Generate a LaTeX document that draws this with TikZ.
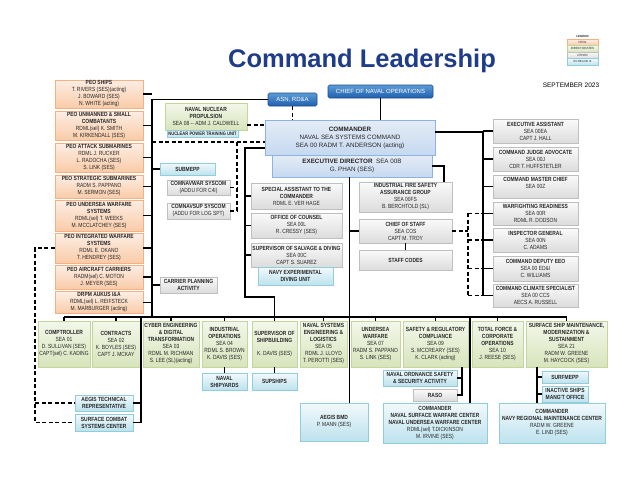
\documentclass[tikz,border=0pt]{standalone}
\usepackage{fontspec}
\setmainfont{Liberation Sans}
\newfontfamily\narrowfont[FakeStretch=0.82]{Liberation Sans}
\usetikzlibrary{calc}

\definecolor{titleblue}{HTML}{1F3C88}
\definecolor{peoedge}{HTML}{F4B183}
\definecolor{peotop}{HTML}{FDEEE4}
\definecolor{peobot}{HTML}{F9CBA8}
\definecolor{diredge}{HTML}{C4D79B}
\definecolor{dirtop}{HTML}{F3F7EA}
\definecolor{dirbot}{HTML}{D8E4BC}
\definecolor{othedge}{HTML}{BFBFBF}
\definecolor{othtop}{HTML}{FAFAFA}
\definecolor{othbot}{HTML}{DCDCDC}
\definecolor{echedge}{HTML}{92CDDC}
\definecolor{echtop}{HTML}{F2F9FC}
\definecolor{echbot}{HTML}{BDE2EE}
\definecolor{cmdedge}{HTML}{8DB3E2}
\definecolor{cmdtop}{HTML}{E4ECF6}
\definecolor{cmdbot}{HTML}{C6D9F0}
\definecolor{navyedge}{HTML}{1F4E8C}
\definecolor{navytop}{HTML}{5B9BD5}
\definecolor{navybot}{HTML}{1F5FAF}

\tikzset{every node/.style={font=\narrowfont\fontsize{6}{7}\selectfont, align=center, inner sep=0pt, text=black!85}}
\tikzset{unit/.style={draw, line width=0.6pt}}
\tikzset{sz/.style 2 args={minimum width=#1, minimum height=#2}}
\tikzset{peo/.style={unit, draw=peoedge, top color=peotop, bottom color=peobot}}
\tikzset{dir/.style={unit, draw=diredge, top color=dirtop, bottom color=dirbot}}
\tikzset{other/.style={unit, draw=othedge, top color=othtop, bottom color=othbot}}
\tikzset{ech/.style={unit, draw=echedge, top color=echtop, bottom color=echbot}}
\tikzset{cmd/.style={unit, draw=cmdedge, top color=cmdtop, bottom color=cmdbot,
                     font=\normalfont\fontsize{6.3}{8}\selectfont}}
\tikzset{navy/.style={unit, draw=navyedge, top color=navytop, bottom color=navybot, rounded corners=1.5pt,
                      text=white, font=\normalfont\fontsize{6}{7}\selectfont}}
\tikzset{legbox/.style={font=\normalfont\fontsize{3}{3.5}\selectfont, sz={31}{6.5}}}
\tikzset{link/.style={line width=1.2pt}}
\tikzset{dlink/.style={line width=1.2pt, dash pattern=on 4pt off 2.5pt}}

\begin{document}
\begin{tikzpicture}[x=1pt, y=-1pt]
		\useasboundingbox (0,0) rectangle (638,493);

		% Heading
		\node[font=\normalfont\bfseries\fontsize{25.5}{30}\selectfont, text=titleblue] (title) at (362,61) {Command Leadership};
		\node[font=\normalfont\fontsize{6.5}{7}\selectfont, text=black] (date) at (571,85) {SEPTEMBER 2023};

		% Legend
		\node[font=\normalfont\bfseries\fontsize{3}{3.5}\selectfont] (leg) at (582.5,36.5) {LEGEND};
		\node[peo, legbox] (legpeo) at (582.5,42.3) {PEOs};
		\node[dir, legbox] (legdir) at (582.5,48.8) {DIRECTORATES};
		\node[other, legbox] (legoth) at (582.5,55.3) {OTHER};
		\node[ech, legbox] (legech) at (582.5,61.8) {ECHELON III};

		% Top of the chain
		\node[navy, sz={105}{13}] (cno) at (380.5,91.5) {CHIEF OF NAVAL OPERATIONS};
		\node[navy, sz={49}{13}] (asn) at (292.5,99.5) {ASN, RD\&A};
		\node[cmd, sz={170}{35}] (cmdr) at (350,137.5) {\textbf{COMMANDER}\\NAVAL SEA SYSTEMS COMMAND\\SEA 00 RADM T. ANDERSON (acting)};
		\node[cmd, sz={160}{22}] (exdir) at (352,166) {\textbf{EXECUTIVE DIRECTOR}\ \ SEA 00B\\G. PHAN (SES)};

		% PEOs
		\node[peo, sz={88}{28}] (ships) at (99,94) {\textbf{PEO SHIPS}\\T. RIVERS (SES)(acting)\\J. BOWARD (SES)\\N. WHITE (acting)};
		\node[peo, sz={88}{29}] (unm) at (99,125.5) {\textbf{PEO UNMANNED \& SMALL}\\\textbf{COMBATANTS}\\RDML(sel) K. SMITH\\M. KIRKENDALL (SES)};
		\node[peo, sz={88}{29}] (atk) at (99,157.5) {\textbf{PEO ATTACK SUBMARINES}\\RDML J. RUCKER\\L. RADOCHA (SES)\\S. LINK (SES)};
		\node[peo, sz={88}{23}] (ssbn) at (99,186.5) {\textbf{PEO STRATEGIC SUBMARINES}\\RADM S. PAPPANO\\M. SERMON (SES)};
		\node[peo, sz={88}{31}] (usw) at (99,215.5) {\textbf{PEO UNDERSEA WARFARE}\\\textbf{SYSTEMS}\\RDML(sel) T. WEEKS\\M. MCCLATCHEY (SES)};
		\node[peo, sz={88}{30}] (iws) at (99,248) {\textbf{PEO INTEGRATED WARFARE}\\\textbf{SYSTEMS}\\RDML E. OKANO\\T. HENDREY (SES)};
		\node[peo, sz={88}{24}] (cvn) at (99,277) {\textbf{PEO AIRCRAFT CARRIERS}\\RADM(sel) C. MOTON\\J. MEYER (SES)};
		\node[peo, sz={88}{22}] (aukus) at (99,302.5) {\textbf{DRPM AUKUS I\&A}\\RDML(sel) L. REIFSTECK\\M. MARBURGER (acting)};

		% Left side units
		\node[dir, sz={82}{27}] (nnp) at (206,116.5) {\textbf{NAVAL NUCLEAR}\\\textbf{PROPULSION}\\SEA 08 -- ADM J. CALDWELL};
		\node[ech, sz={71}{7.5}, font=\narrowfont\bfseries\fontsize{5}{6}\selectfont] (nptu) at (202.5,133.75) {NUCLEAR POWER TRAINING UNIT};
		\node[ech, sz={55}{12}] (submepp) at (187.5,169) {\textbf{SUBMEPP}};
		\node[other, sz={63}{15}] (nwar) at (198.5,187.5) {\textbf{COMNAVWAR SYSCOM}\\(ADDU FOR C4I)};
		\node[other, sz={63}{16}] (nsup) at (198.5,211) {\textbf{COMNAVSUP SYSCOM}\\(ADDU FOR LOG SPT)};
		\node[other, sz={57}{16}] (cpa) at (188.5,285) {\textbf{CARRIER PLANNING}\\\textbf{ACTIVITY}};

		% Staff
		\node[other, sz={91}{26}] (spa) at (296.5,196) {\textbf{SPECIAL ASSISTANT TO THE}\\\textbf{COMMANDER}\\RDML E. VER HAGE};
		\node[other, sz={91}{25}] (ogc) at (296.5,225.5) {\textbf{OFFICE OF COUNSEL}\\SEA 00L\\R. CRESSY (SES)};
		\node[other, sz={91}{24}] (supsalv) at (296.5,255) {\textbf{SUPERVISOR OF SALVAGE \& DIVING}\\SEA 00C\\CAPT S. SUAREZ};
		\node[ech, sz={75}{18}] (nedu) at (295.5,276) {\textbf{NAVY EXPERIMENTAL}\\\textbf{DIVING UNIT}};
		\node[other, sz={93}{30}] (ifsag) at (405.5,197) {\textbf{INDUSTRIAL FIRE SAFETY}\\\textbf{ASSURANCE GROUP}\\SEA 00FS\\B. BERCHTOLD (SL)};
		\node[other, sz={93}{24}] (cos) at (405.5,231) {\textbf{CHIEF OF STAFF}\\SEA COS\\CAPT M. TROY};
		\node[other, sz={93}{20}] (codes) at (405.5,260) {\textbf{STAFF CODES}};

		% Special staff (right)
		\node[other, sz={85}{24}] (ea) at (535.5,131) {\textbf{EXECUTIVE ASSISTANT}\\SEA 00EA\\CAPT J. HALL};
		\node[other, sz={85}{24}] (cja) at (535.5,159) {\textbf{COMMAND JUDGE ADVOCATE}\\SEA 00J\\CDR T. HUFFSTETLER};
		\node[other, sz={85}{23}] (cmc) at (535.5,186.5) {\textbf{COMMAND MASTER CHIEF}\\SEA 00Z\\\mbox{}};
		\node[other, sz={85}{23}] (wr) at (535.5,213.5) {\textbf{WARFIGHTING READINESS}\\SEA 00R\\RDML R. DODSON};
		\node[other, sz={85}{24}] (ig) at (535.5,240) {\textbf{INSPECTOR GENERAL}\\SEA 00N\\C. ADAMS};
		\node[other, sz={85}{25}] (eeo) at (535.5,268.5) {\textbf{COMMAND DEPUTY EEO}\\SEA 00 ED\&I\\C. WILLIAMS};
		\node[other, sz={85}{23}] (ccs) at (535.5,295.5) {\textbf{COMMAND CLIMATE SPECIALIST}\\SEA 00 CCS\\AECS A. RUSSELL};

		% Directorates
		\node[dir, sz={52}{46}] (comp) at (64,344) {\textbf{COMPTROLLER}\\SEA 01\\D. SULLIVAN (SES)\\CAPT(sel) C. KADING};
		\node[dir, sz={48}{46}] (ctr) at (116,344) {\textbf{CONTRACTS}\\SEA 02\\K. BOYLES (SES)\\CAPT J. MCKAY};
		\node[dir, sz={56}{46}] (cyber) at (171,344) {\textbf{CYBER ENGINEERING}\\\textbf{\& DIGITAL}\\\textbf{TRANSFORMATION}\\SEA 03\\RDML M. RICHMAN\\S. LEE (SL)(acting)};
		\node[dir, sz={45}{46}] (indops) at (224.5,344) {\textbf{INDUSTRIAL}\\\textbf{OPERATIONS}\\SEA 04\\RDML S. BROWN\\K. DAVIS (SES)};
		\node[dir, sz={45}{46}] (supship) at (274.5,344) {\textbf{SUPERVISOR OF}\\\textbf{SHIPBUILDING}\\[6pt]K. DAVIS (SES)};
		\node[dir, sz={47}{46}] (nsel) at (323.5,344) {\textbf{NAVAL SYSTEMS}\\\textbf{ENGINEERING \&}\\\textbf{LOGISTICS}\\SEA 05\\RDML J. LLOYD\\T. PEROTTI (SES)};
		\node[dir, sz={49}{46}] (usea) at (375.5,344) {\textbf{UNDERSEA}\\\textbf{WARFARE}\\SEA 07\\RADM S. PAPPANO\\S. LINK (SES)};
		\node[dir, sz={65}{46}] (safety) at (435.5,344) {\textbf{SAFETY \& REGULATORY}\\\textbf{COMPLIANCE}\\SEA 09\\S. MCCREARY (SES)\\K. CLARK (acting)};
		\node[dir, sz={51}{46}] (tfco) at (497.5,344) {\textbf{TOTAL FORCE \&}\\\textbf{CORPORATE}\\\textbf{OPERATIONS}\\SEA 10\\J. REESE (SES)};
		\node[dir, sz={81}{46}] (ssm) at (566.5,344) {\textbf{SURFACE SHIP MAINTENANCE,}\\\textbf{MODERNIZATION \&}\\\textbf{SUSTAINMENT}\\SEA 21\\RADM W. GREENE\\M. HAYCOCK (SES)};

		% Echelon III
		\node[ech, sz={45}{17}] (nsy) at (224.5,381.5) {\textbf{NAVAL}\\\textbf{SHIPYARDS}};
		\node[ech, sz={45}{17}] (supships) at (274.5,381.5) {\textbf{SUPSHIPS}};
		\node[ech, sz={58}{16}] (atr) at (104,403) {\textbf{AEGIS TECHNICAL}\\\textbf{REPRESENTATIVE}};
		\node[ech, sz={58}{17}] (scsc) at (104,422.5) {\textbf{SURFACE COMBAT}\\\textbf{SYSTEMS CENTER}};
		\node[ech, sz={68}{38}] (bmd) at (334,422) {\textbf{AEGIS BMD}\\P. MANN (SES)};
		\node[ech, sz={74}{16}] (nossa) at (420,378) {\textbf{NAVAL ORDNANCE SAFETY}\\\textbf{\& SECURITY ACTIVITY}};
		\node[other, sz={44}{12}] (raso) at (435,395) {\textbf{RASO}};
		\node[ech, sz={104}{40}] (nswc) at (435,423) {\textbf{COMMANDER}\\\textbf{NAVAL SURFACE WARFARE CENTER}\\\textbf{NAVAL UNDERSEA WARFARE CENTER}\\RDML(sel) T.DICKINSON\\M. IRVINE (SES)};
		\node[ech, sz={46}{12}] (surfmepp) at (565,377) {\textbf{SURFMEPP}};
		\node[ech, sz={46}{16}] (isfo) at (565,394) {\textbf{INACTIVE SHIPS}\\\textbf{MANG'T OFFICE}};
		\node[ech, sz={106}{40}] (nrmc) at (552,423) {\textbf{COMMANDER}\\\textbf{NAVY REGIONAL MAINTENANCE CENTER}\\RADM W. GREENE\\E. LIND (SES)};

		% Coordinates
		\coordinate (peotop) at (152,99.5);
		\coordinate (peobot) at (152,317);
		\coordinate (peodash) at (152,142);
		\coordinate (addu) at (237,142);
		\coordinate (stf) at (245,148);
		\coordinate (stfbot) at (245,297);
		\coordinate (stfjoin) at (274.5,297);
		\coordinate (spine) at (349.5,177);
		\coordinate (ifs) at (444,166);
		\coordinate (rbus) at (483,132);
		\coordinate (cosd) at (468,213);
		\coordinate (bus) at (64,317);
		\coordinate (cyb) at (141,317);
		\coordinate (iwsd) at (35,248);
		\coordinate (sfy) at (462,367);
		\coordinate (wc) at (470,317);
		\coordinate (sm) at (537,367);

		% Chain of command
		\draw[link] (cno.south) -- (cno.south |- cmdr.north);
		\draw[dlink] (asn.south) -- (asn.south |- cmdr.north);
		\draw[link] (asn.west) -- (peotop) -- (peobot);
		\foreach \p in {ships,unm,atk,ssbn,usw,iws,cvn,aukus}
			\draw[link] (\p.east) -- (\p.east -| peotop);
		\foreach \p in {submepp,cpa}
			\draw[link] (\p.west) -- (\p.west -| peotop);

		%% ADDU lines
		\draw[dlink] (peodash) -- (cmdr.west |- peodash);
		\draw[dlink] (addu) -- (addu |- nsup.east);
		\draw[dlink] (nwar.east) -- (nwar.east -| addu);
		\draw[dlink] (nsup.east) -- (nsup.east -| addu);
		\draw[dlink] ([yshift=-8.5pt]nnp.east) coordinate (nnpr) -- (nnpr -| cmdr.west);

		%% Staff
		\draw[link] (cmdr.west |- stf) -- (stf) -- (stfbot) -- (stfjoin) -- (stfjoin |- bus);
		\foreach \s in {spa,ogc,supsalv}
			\draw[link] (\s.west) -- (\s.west -| stf);
		\draw[link] (spine) -- (spine |- bmd.north);
		\draw[link] (cos.west) -- (cos.west -| spine);
		\draw[link] (exdir.east |- ifs) -- (ifs) -- (ifs |- ifsag.north);
		\draw[link] (cos.south) -- (codes.north);

		%% Special staff
		\draw[link] (cmdr.east |- rbus) -- (rbus) -- (rbus |- ccs.west);
		\foreach \r in {ea,cja,cmc,wr,ig,eeo,ccs}
			\draw[link] (\r.west) -- (\r.west -| rbus);
		\draw[dlink] (cos.east) -- (cos.east -| cosd);
		\draw[dlink] (cosd) -- (cosd |- ccs.west);
		\foreach \r in {wr,ig,eeo,ccs}
			\draw[dlink] (\r.west -| cosd) -- (\r.west -| rbus);

		% Directorates
		\draw[link] (bus) -- (ssm.north |- bus);
		\foreach \d in {comp,ctr,cyber,indops,supship,nsel,usea,safety,tfco,ssm}
			\draw[link] (\d.north) -- (\d.north |- bus);

		% Echelon III
		\draw[link] (cyb) -- (cyb |- scsc.east) -- (scsc.east);
		\draw[link] (atr.east) -- (atr.east -| cyb);
		\draw[dlink] (iws.west) -- (iws.west -| iwsd) -- (iwsd |- scsc.west) -- (scsc.west);
		\draw[dlink] (atr.west -| iwsd) -- (atr.west);
		\draw[link] (indops.south) -- (nsy.north);
		\draw[link] (supship.south) -- (supships.north);
		\draw[link] (sfy) -- (sfy |- raso.east) -- (raso.east);
		\draw[link] (nossa.east) -- (nossa.east -| sfy);
		\draw[link] (wc) -- (wc |- nswc.north);
		\draw[link] (sm) -- (sm |- nrmc.north);
		\foreach \b in {surfmepp,isfo}
			\draw[link] (\b.west -| sm) -- (\b.west);
	\end{tikzpicture}
\end{document}
